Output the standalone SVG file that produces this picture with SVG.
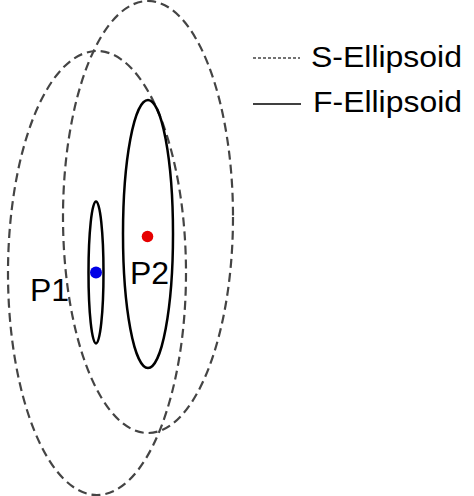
<svg xmlns="http://www.w3.org/2000/svg" width="474" height="496" viewBox="0 0 474 496">
<style>
.s{fill:none;stroke:#444;stroke-width:2.2;stroke-dasharray:9 5}
.f{fill:none;stroke:#000;stroke-width:2.5}
.t{font-family:"Liberation Sans",Arial,sans-serif;fill:#000}
</style>
<rect width="474" height="496" fill="#fff"/>
<g id="s-ellipsoid-p1"><ellipse class="s" cx="97" cy="273" rx="89" ry="222"/></g>
<g id="s-ellipsoid-p2"><ellipse class="s" cx="148" cy="217" rx="85" ry="216"/></g>
<g id="f-ellipsoid-p1"><ellipse class="f" cx="96" cy="272.5" rx="7.5" ry="71"/></g>
<g id="f-ellipsoid-p2"><ellipse class="f" cx="148" cy="234" rx="25" ry="134"/></g>
<g id="p1"><circle cx="96" cy="272.5" r="6" fill="#0000e6"/><text class="t" x="30" y="301" font-size="32">P1</text></g>
<g id="p2"><circle cx="147.5" cy="236.5" r="5.8" fill="#e60000"/><text class="t" x="130" y="284" font-size="32">P2</text></g>
<g id="legend">
<line x1="253" y1="58" x2="300" y2="58" stroke="#444" stroke-width="1.4" stroke-dasharray="3 2"/>
<text class="t" x="311" y="67" font-size="30" textLength="151" lengthAdjust="spacingAndGlyphs">S-Ellipsoid</text>
<line x1="253" y1="104" x2="301" y2="104" stroke="#000" stroke-width="1.7"/>
<text class="t" x="313" y="112" font-size="30" textLength="149" lengthAdjust="spacingAndGlyphs">F-Ellipsoid</text>
</g>
<g id="connectors"/>
</svg>
